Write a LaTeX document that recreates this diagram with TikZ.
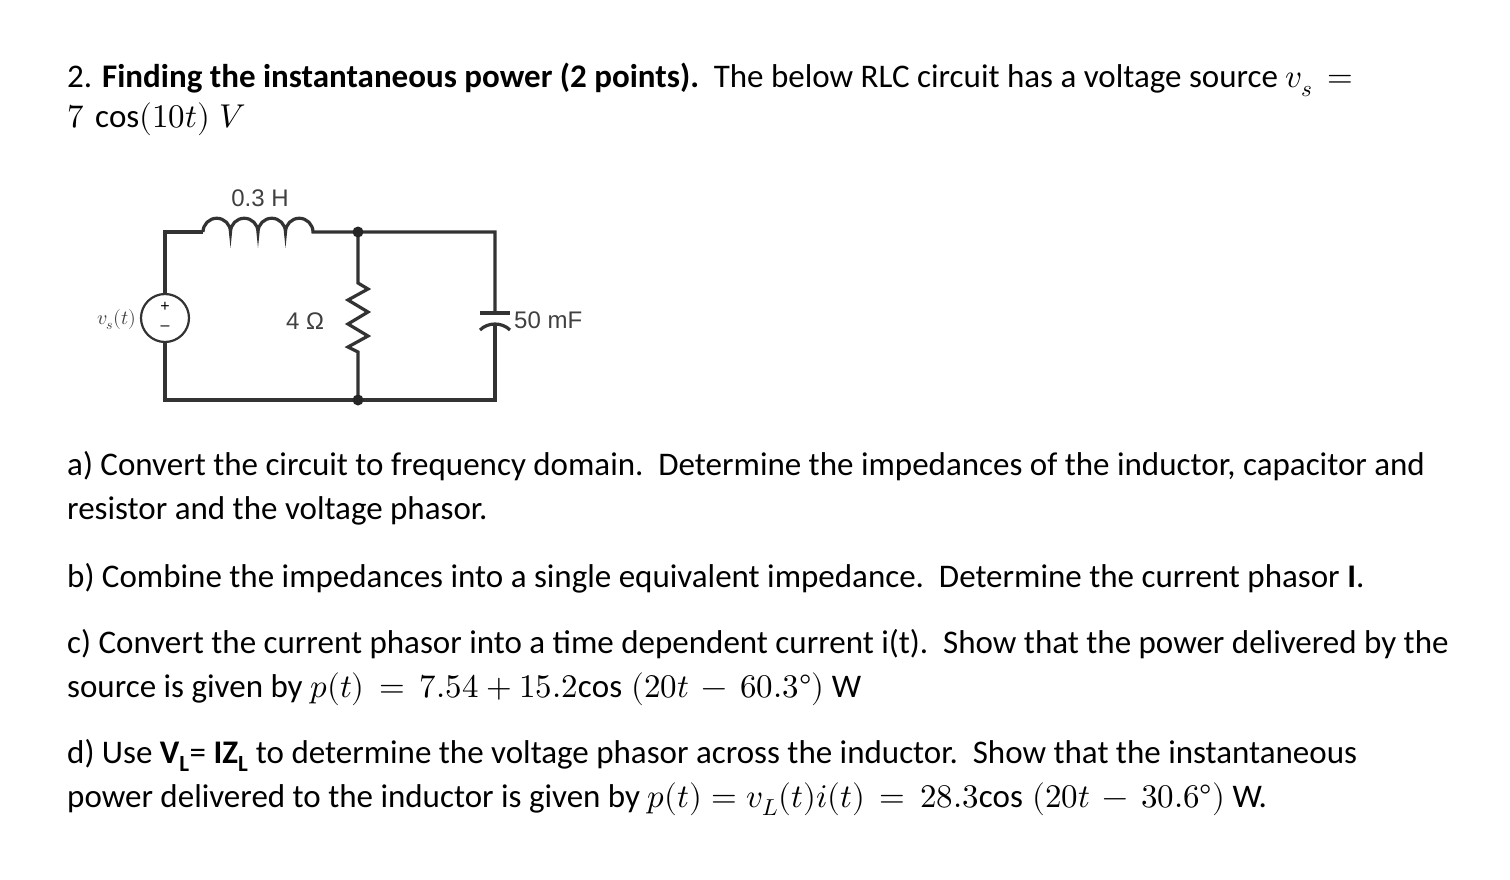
\documentclass[tikz,border=0pt]{standalone}
\usepackage{fontspec}
\setmainfont{Carlito}
\usepackage{unicode-math}
\setmathfont{Latin Modern Math}
\newfontfamily\arialf{Liberation Sans}
\begin{document}
\begin{tikzpicture}[x=1pt,y=-1pt,
  txt/.style={anchor=base west,inner sep=0pt,font=\fontsize{33}{38}\selectfont},
  lbl/.style={inner sep=0pt,font=\arialf\fontsize{24}{26}\selectfont,text=black!75},
  wire/.style={line width=3.2pt,black!80}]
\useasboundingbox (0,0) rectangle (1510,880);
\node[txt] (t1) at (67,88) {2. \textbf{Finding the instantaneous power (2 points).}\ \ The below RLC circuit has a voltage source $v_s\,=$};
\node[txt] (t2) at (67,128) {$7\,\cos(10t)\;V$};
\node[txt] (a1) at (67,475) {a) Convert the circuit to frequency domain.\ \ Determine the impedances of the inductor, capacitor and};
\node[txt] (a2) at (67,519) {resistor and the voltage phasor.};
\node[txt] (b1) at (67,587) {b) Combine the impedances into a single equivalent impedance.\ \ Determine the current phasor \textbf{I}.};
\node[txt] (c1) at (67,653) {c) Convert the current phasor into a time dependent current i(t).\ \ Show that the power delivered by the};
\node[txt] (c2) at (67,697) {source is given by $p(t)\,=\,7.54+15.2\mathrm{cos}\;(20t\,-\,60.3°)$ W};
\node[txt] (d1) at (67,763) {d) Use $\mathbf{V_L}$= $\mathbf{IZ_L}$ to determine the voltage phasor across the inductor.\ \ Show that the instantaneous};
\node[txt] (d2) at (67,807) {power delivered to the inductor is given by $p(t)=v_L(t)i(t)\,=\,28.3\mathrm{cos}\;(20t\,-\,30.6°)$ W.};
% circuit
\coordinate (tl) at (165,232); \coordinate (bl) at (165,400);
\coordinate (tm) at (358,232); \coordinate (bm) at (358,400);
\coordinate (tr) at (495,232); \coordinate (br) at (495,400);
\node[circle,draw,line width=2.2pt,black!80,minimum size=48pt,inner sep=0pt] (src) at (165,318) {};
\node[font=\arialf\fontsize{16}{16}\selectfont] (pl) at (165,307) {+};
\node[font=\arialf\fontsize{16}{16}\selectfont] (mi) at (165,328) {–};
\node[lbl,font=\fontsize{20}{22}\selectfont] (vs) at (117,320) {$v_s(t)$};
\draw[wire] (src.north) -- (tl) -- (203,232);
\draw[wire] (203,232) \foreach \i in {0,...,3} {arc[start angle=180,end angle=360,radius=13.75]} -- (tm) -- (tr) -- (495,313);
\draw[wire] (480,313) -- (510,313);
\draw[wire] (480,330) .. controls (488,322) and (502,322) .. (510,330);
\draw[wire] (495,324) -- (br) -- (bl) -- (src.south);
\draw[wire] (tm) -- (358,283) -- (368,289) -- (348,300) -- (368,312) -- (348,324) -- (368,336) -- (348,347) -- (358,352) -- (bm);
\fill[black!85] (tm) circle (5.5);
\fill[black!85] (bm) circle (5.5);
\node[lbl] (lL) at (260,198) {0.3 H};
\node[lbl] (lR) at (305,321) {4 Ω};
\node[lbl,anchor=west] (lC) at (514,320) {50 mF};
\end{tikzpicture}
\end{document}
